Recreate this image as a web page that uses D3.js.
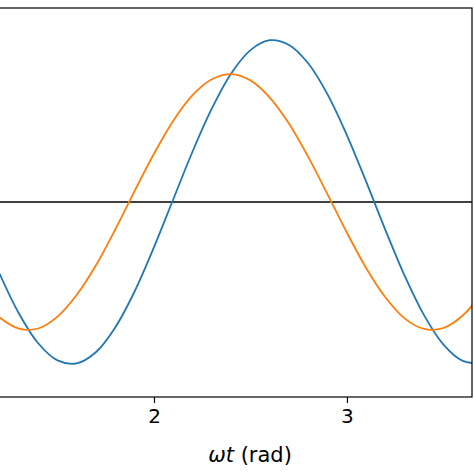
<!DOCTYPE html>
<html><head><meta charset="utf-8">
<script src="https://cdn.jsdelivr.net/npm/d3@7"></script>
<style>body{margin:0;background:#fff}</style>
</head><body><div id="chart"></div>
<script>
var w = 474, h = 474;

// values (omega t in rad, signal in arbitrary units)
var tVals = [1.2,1.3,1.4,1.5,1.6,1.7,1.8,1.9,2.0,2.1,2.2,2.3,2.4,2.5,2.6,2.7,2.8,2.9,3.0,3.1,3.2,3.3,3.4,3.5,3.6,3.7];
var blueVals = [-0.443,-0.688,-0.872,-0.978,-0.996,-0.926,-0.773,-0.551,-0.279,0.017,0.312,0.578,0.794,0.938,0.999,0.970,0.855,0.663,0.412,0.124,-0.175,-0.458,-0.700,-0.880,-0.981,-0.996];
var orangeVals = [-0.713,-0.782,-0.781,-0.708,-0.573,-0.389,-0.168,0.069,0.298,0.502,0.660,0.758,0.790,0.751,0.645,0.483,0.277,0.046,-0.190,-0.409,-0.590,-0.720,-0.784,-0.778,-0.701,-0.562];
var xTicks = [2, 3];

var mLeft = -2, mRight = 472, mTop = 8, mBottom = 397;

var svg = d3.select("#chart").append("svg").attr("width", w).attr("height", h);

var x = d3.scaleLinear().domain([1.202, 3.648]).range([0, 472]);
var y = d3.scaleLinear().domain([-1.204, 1.198]).range([mBottom, mTop]);

svg.append("clipPath").attr("id", "clip")
  .append("rect").attr("x", mLeft).attr("y", mTop).attr("width", mRight - mLeft).attr("height", mBottom - mTop);

var plot = svg.append("g").attr("clip-path", "url(#clip)");

// zero line
plot.append("line")
  .attr("x1", mLeft).attr("x2", mRight)
  .attr("y1", y(0)).attr("y2", y(0))
  .attr("stroke", "black").attr("stroke-width", 1.6);

var line = d3.line().curve(d3.curveCatmullRom)
  .x(function(d, i) { return x(tVals[i]); })
  .y(function(d) { return y(d); });

plot.append("path").datum(blueVals).attr("d", line)
  .attr("fill", "none").attr("stroke", "#1f77b4").attr("stroke-width", 1.8);
plot.append("path").datum(orangeVals).attr("d", line)
  .attr("fill", "none").attr("stroke", "#ff7f0e").attr("stroke-width", 1.8);

// frame
svg.append("rect").attr("x", mLeft).attr("y", mTop)
  .attr("width", mRight - mLeft).attr("height", mBottom - mTop)
  .attr("fill", "none").attr("stroke", "black").attr("stroke-width", 1.2);

var xAxis = d3.axisBottom(x).tickValues(xTicks).tickSize(6).tickPadding(6).tickFormat(d3.format("d"));
var ax = svg.append("g").attr("transform", "translate(0," + mBottom + ")").call(xAxis);
ax.select(".domain").remove();
ax.selectAll("line").attr("stroke-width", 1.2);
ax.selectAll("text").attr("font-family", "DejaVu Sans").attr("font-size", 20).attr("fill", "black");

var lab = svg.append("text").attr("x", 250).attr("y", 462)
  .attr("text-anchor", "middle").attr("font-family", "DejaVu Sans").attr("font-size", 21);
lab.append("tspan").attr("font-style", "italic").text("ωt");
lab.append("tspan").text(" (rad)");
</script>
</body></html>
